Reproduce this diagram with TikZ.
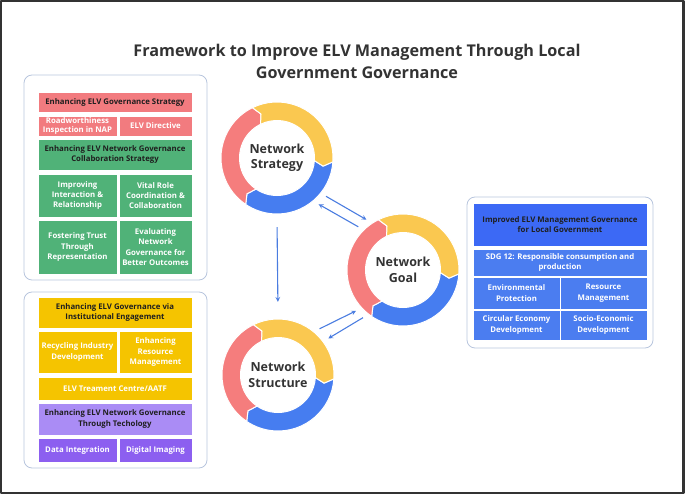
\documentclass[tikz,border=0pt]{standalone}
\usepackage{fontspec}
\setmainfont{Open Sans}
\definecolor{textdark}{HTML}{333333}
\definecolor{cellred}{HTML}{F27B7F}
\definecolor{cellgreen}{HTML}{50B278}
\definecolor{cellyellow}{HTML}{F5C400}
\definecolor{purplelight}{HTML}{AA8CF5}
\definecolor{purpledark}{HTML}{8C5FF0}
\definecolor{bluehead}{HTML}{3C69F5}
\definecolor{bluecell}{HTML}{4B7DF0}
\definecolor{ringred}{HTML}{F57D7D}
\definecolor{ringyellow}{HTML}{FAC850}
\definecolor{ringblue}{HTML}{467DF0}
\definecolor{linkblue}{HTML}{4A7CE0}
\definecolor{panelline}{HTML}{B7C5DD}
\tikzset{
  cell/.style={draw=white,line width=0.7pt,inner sep=0pt,align=center,
    font=\bfseries\fontsize{7.8}{10.4}\selectfont},
  headcell/.style={cell,text=black!88},
  textcell/.style={cell,text=white},
  panel/.style={draw=panelline,line width=0.8pt,rounded corners=8pt},
  hub/.style={circle,minimum size=124pt,inner sep=0pt,align=center,text=textdark,
    font=\bfseries\fontsize{12.5}{15.5}\selectfont},
  link/.style={->,draw=linkblue,line width=1.1pt}
}
\begin{document}
\begin{tikzpicture}[x=1pt,y=-1pt,>=stealth,line join=round]
\useasboundingbox (0,0) rectangle (685,494);
\draw[line width=2.4pt,draw=textdark] (1.2,1.2) rectangle (683.6,492.8);

\node[align=center,text=textdark,font=\bfseries\fontsize{16.2}{22}\selectfont] (head)
  at (357,61) {Framework to Improve ELV Management Through Local\\Government Governance};

% left panels
\draw[panel] (24,75) rectangle (207,280);
\draw[panel] (24,292) rectangle (207,468);

\node[headcell,fill=cellred,minimum width=154pt,minimum height=20pt] (govstrat)
  at (115,102) {Enhancing ELV Governance Strategy};
\node[textcell,fill=cellred,minimum width=79pt,minimum height=20pt,
  font=\bfseries\fontsize{7.8}{8.6}\selectfont] (road)
  at (77.5,126) {Roadworthiness\\Inspection in NAP};
\node[textcell,fill=cellred,minimum width=73pt,minimum height=20pt] (directive)
  at (155.5,126) {ELV Directive};
\node[headcell,fill=cellgreen,minimum width=154pt,minimum height=31pt] (collab)
  at (115,154.5) {Enhancing ELV Network Governance\\Collaboration Strategy};
\node[textcell,fill=cellgreen,minimum width=79pt,minimum height=43pt] (interact)
  at (77.5,195.5) {Improving\\Interaction \&\\Relationship};
\node[textcell,fill=cellgreen,minimum width=73pt,minimum height=43pt] (vital)
  at (155.5,195.5) {Vital Role\\Coordination \&\\Collaboration};
\node[textcell,fill=cellgreen,minimum width=79pt,minimum height=54pt] (trust)
  at (77.5,247) {Fostering Trust\\Through\\Representation};
\node[textcell,fill=cellgreen,minimum width=73pt,minimum height=54pt] (evaluate)
  at (155.5,247) {Evaluating\\Network\\Governance for\\Better Outcomes};

\node[headcell,fill=cellyellow,minimum width=154pt,minimum height=31pt] (instit)
  at (115,312.5) {Enhancing ELV Governance via\\Institutional Engagement};
\node[textcell,fill=cellyellow,minimum width=79pt,minimum height=42pt] (recycle)
  at (77.5,352) {Recycling Industry\\Development};
\node[textcell,fill=cellyellow,minimum width=73pt,minimum height=42pt] (resource)
  at (155.5,352) {Enhancing\\Resource\\Management};
\node[textcell,fill=cellyellow,minimum width=154pt,minimum height=23pt] (aatf)
  at (115,388.5) {ELV Treament Centre/AATF};
\node[headcell,fill=purplelight,minimum width=154pt,minimum height=32pt] (techno)
  at (115,419) {Enhancing ELV Network Governance\\Through Techology};
\node[textcell,fill=purpledark,minimum width=79pt,minimum height=24pt] (data)
  at (77.5,450) {Data Integration};
\node[textcell,fill=purpledark,minimum width=73pt,minimum height=24pt] (imaging)
  at (155.5,450) {Digital Imaging};

% right panel
\draw[panel] (467,197) rectangle (653,348);
\node[headcell,fill=bluehead,minimum width=174pt,minimum height=43pt] (improved)
  at (560,224.5) {Improved ELV Management Governance\\for Local Government};
\node[textcell,fill=bluecell,minimum width=174pt,minimum height=27pt] (sdg)
  at (560,262.5) {SDG 12: Responsible consumption and\\production};
\node[textcell,fill=bluecell,minimum width=87pt,minimum height=32pt] (environ)
  at (516.5,293) {Environmental\\Protection};
\node[textcell,fill=bluecell,minimum width=87pt,minimum height=32pt] (resmgmt)
  at (603.5,293) {Resource\\Management};
\node[textcell,fill=bluecell,minimum width=87pt,minimum height=30pt] (circular)
  at (516.5,325) {Circular Economy\\Development};
\node[textcell,fill=bluecell,minimum width=87pt,minimum height=30pt] (socio)
  at (603.5,325) {Socio-Economic\\Development};

% network rings
\node[hub] (strat) at (277,158) {Network\\Strategy};
\node[hub] (goal) at (403,270) {Network\\Goal};
\node[hub] (struc) at (278,375) {Network\\Structure};

\foreach \hubname in {strat,goal,struc}{
  \foreach \s/\col in {4/ringblue,124/ringred,244/ringyellow}{
    \fill[\col,draw=white,line width=1pt,shift={(\hubname.center)}]
      (\s:56) arc[start angle=\s,end angle=\s+120,radius=56]
      -- (\s+126:46.75) -- (\s+120:37.5)
      arc[start angle=\s+120,end angle=\s,radius=37.5]
      -- (\s+6:46.75) -- cycle;
  }
}

\draw[link,shorten <=7pt,shorten >=11pt] (strat.south) -- (struc.north);
\draw[link] (strat.-38) -- (goal.126);
\draw[link] (goal.136) -- (strat.-48);
\draw[link] (struc.48) -- (goal.221);
\draw[link] (goal.230) -- (struc.36);
\end{tikzpicture}
\end{document}
